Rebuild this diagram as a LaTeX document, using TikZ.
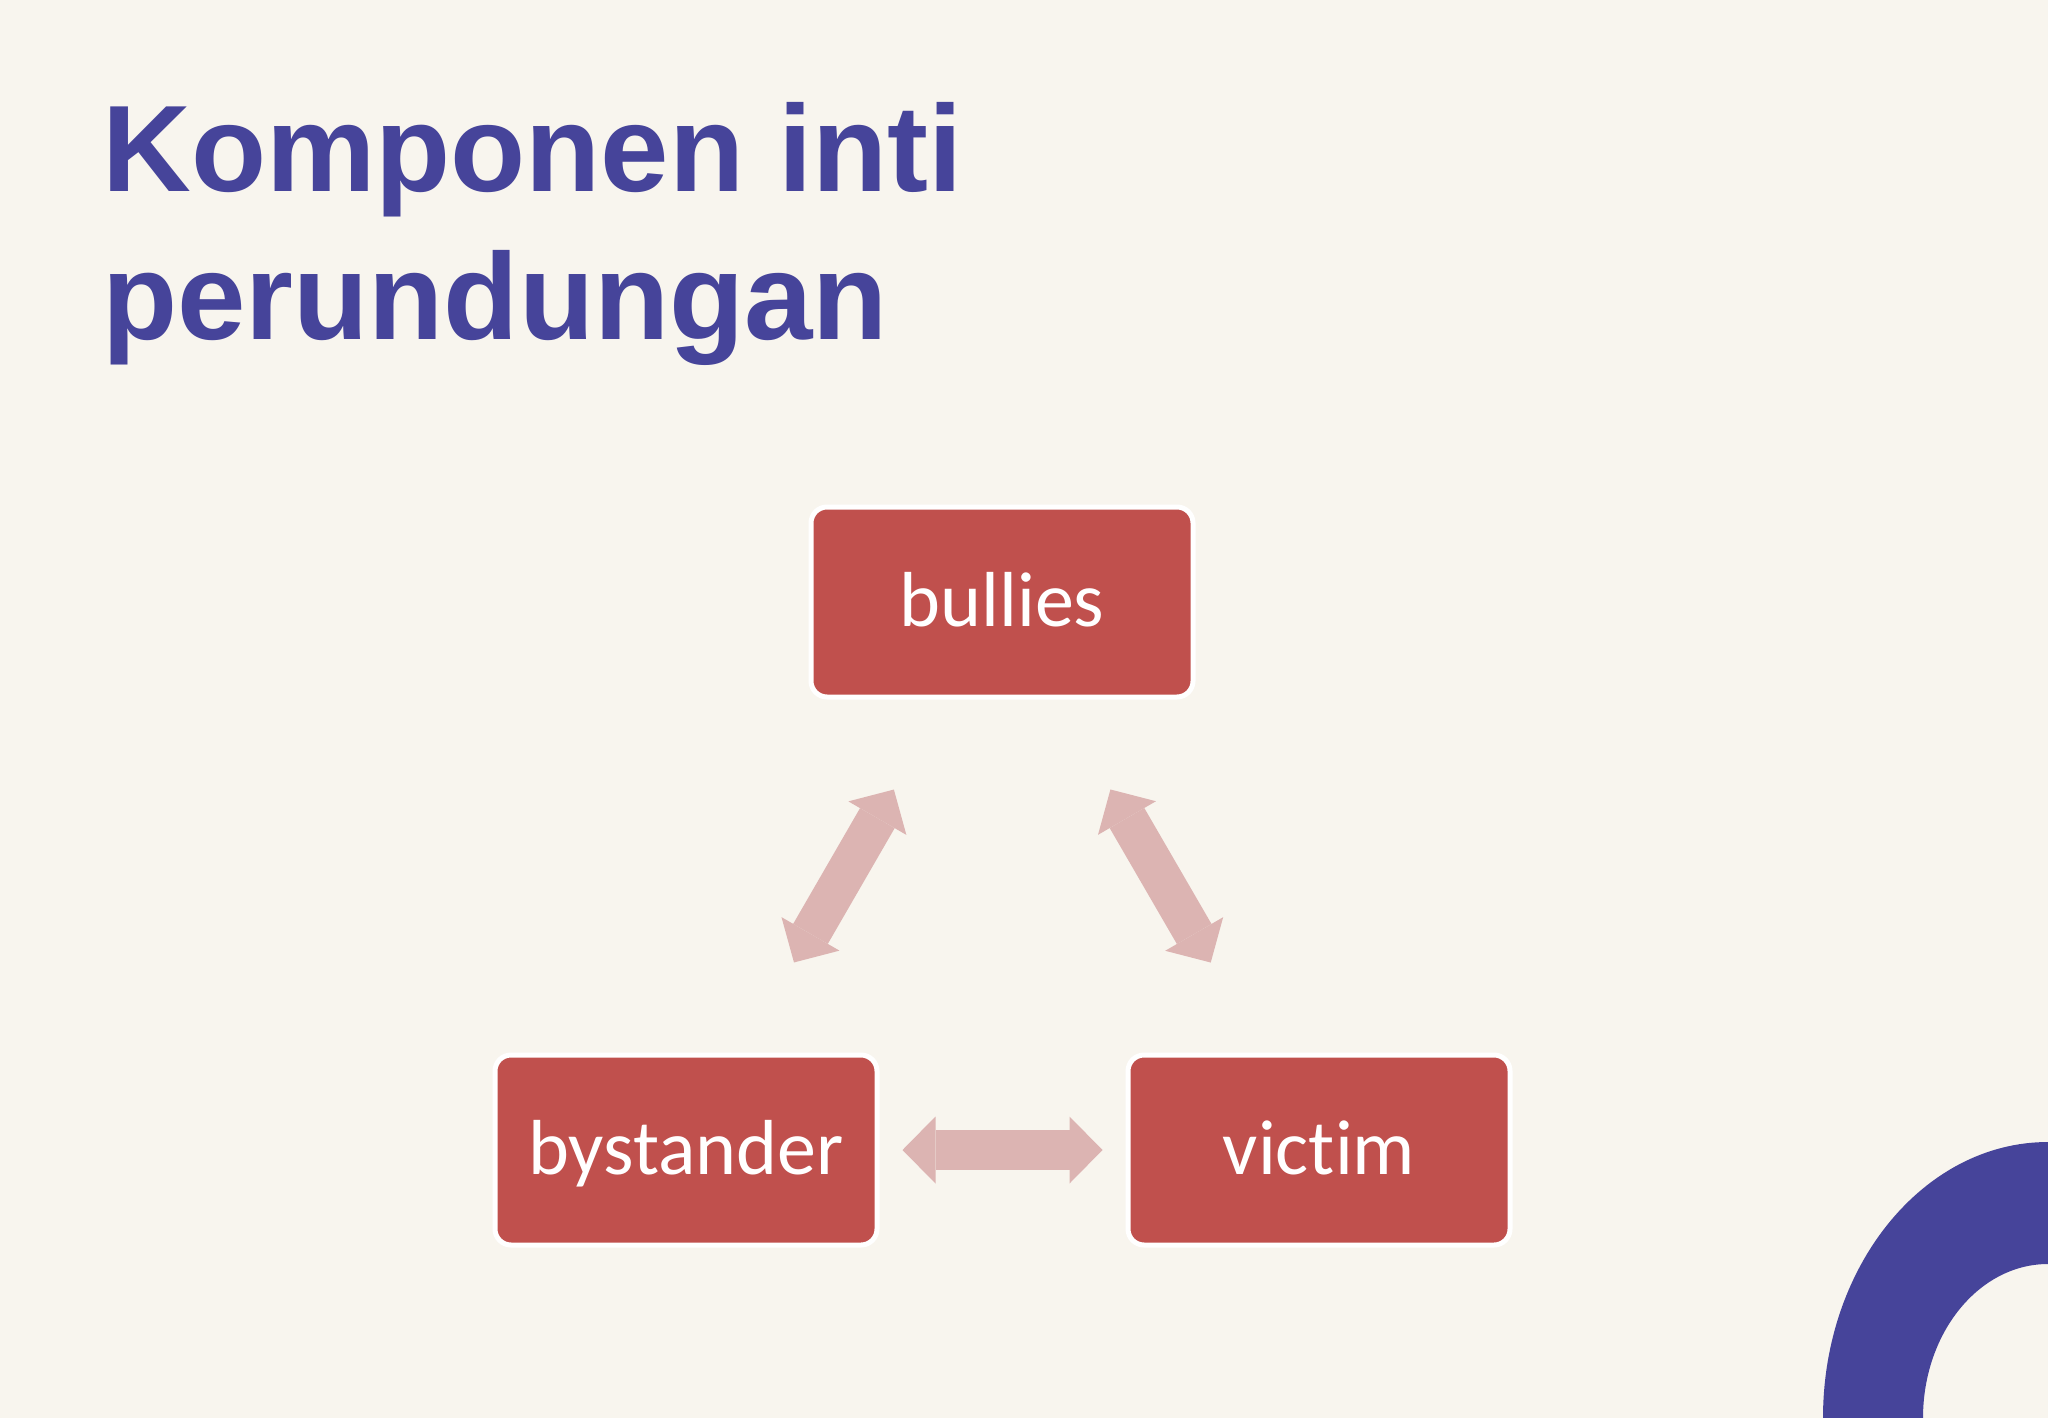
\documentclass[tikz,border=0pt]{standalone}
\usepackage{fontspec}
\setmainfont{Liberation Sans}
\newfontfamily\boxfont[Ligatures=NoCommon]{Carlito}
\usetikzlibrary{arrows.meta,calc}

\definecolor{bgcream}{HTML}{F8F5EE}
\definecolor{titleblue}{HTML}{46449A}
\definecolor{boxred}{HTML}{C0504D}
\definecolor{linkpink}{HTML}{DCB4B2}

\tikzset{
    rolebox/.style={draw=white, line width=5pt, fill=boxred, rounded corners=16pt,
        minimum width=382pt, minimum height=190pt, inner sep=0pt,
        text=white, font=\boxfont\fontsize{78}{92}\selectfont,
        text height=48pt, text depth=0pt},
    link/.style={draw=linkpink, line width=40pt,
        {Triangle[length=33pt,width=67pt,line width=0pt]}-{Triangle[length=33pt,width=67pt,line width=0pt]}},
    titletext/.style={anchor=base west, inner sep=0pt, text=titleblue,
        font=\bfseries\fontsize{123}{148}\selectfont}
}

\begin{document}
\begin{tikzpicture}[x=1pt, y=-1pt]
        % Background
        \fill[bgcream] (0,0) rectangle (2048,1418);
        \useasboundingbox (0,0) rectangle (2048,1418);

        % Title
        \node[titletext] (title) at (102,191) {Komponen inti};
        \node[titletext] (title2) at ($(title.base west)+(0,148)$) {perundungan};

        % Corner arc
        \fill[titleblue, even odd rule] (2048,1418) ellipse [x radius=225pt, y radius=276pt]
            (2048,1418) ellipse [x radius=125pt, y radius=154pt];

        % Boxes
        \node[rolebox] (bul) at (1002,602) {bullies};
        \node[rolebox] (bys) at (686,1150) {bystander};
        \node[rolebox] (vic) at (1319,1150) {victim};

        % Two-way arrows
        \draw[link, shorten <=104pt, shorten >=104pt] (bul) -- (bys);
        \draw[link, shorten <=104pt, shorten >=104pt] (bul) -- (vic);
        \draw[link, shorten <=23pt, shorten >=23pt] (bys) -- (vic);

    \end{tikzpicture}
\end{document}
